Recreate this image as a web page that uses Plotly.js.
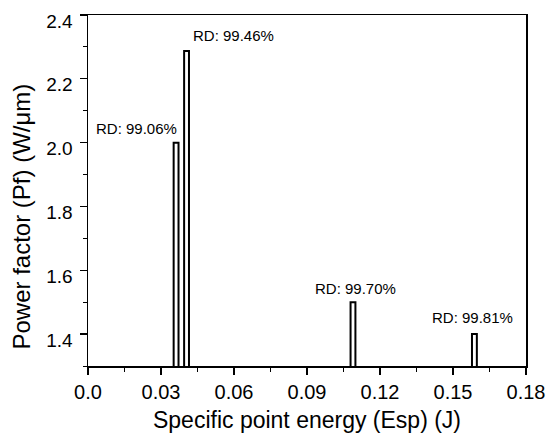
<!DOCTYPE html>
<html>
<head>
<meta charset="utf-8">
<script src="https://cdn.plot.ly/plotly-3.0.1.min.js"></script>
<style>html,body{margin:0;padding:0;background:#fff;}#chart{width:550px;height:440px;}</style>
</head>
<body>
<div id="chart"></div>
<script>
const energy = [0.0362, 0.0405, 0.1089, 0.1588];
const powerFactor = [2.0, 2.287, 1.5, 1.4];
const rdLabels = ["RD: 99.06%", "RD: 99.46%", "RD: 99.70%", "RD: 99.81%"];
const labelX = [0.0201, 0.0598, 0.110, 0.1582];
const labelY = [2.044, 2.336, 1.542, 1.451];
const xTicks = [0.0, 0.03, 0.06, 0.09, 0.12, 0.15, 0.18];
const xTickText = ["0.0", "0.03", "0.06", "0.09", "0.12", "0.15", "0.18"];
const yTicks = [1.4, 1.6, 1.8, 2.0, 2.2, 2.4];
const yTickText = ["1.4", "1.6", "1.8", "2.0", "2.2", "2.4"];
const xTitle = 'Specific point energy (Esp) (J)';
const yTitle = 'Power factor (Pf) (W/μm)';

const FONT = 'Arial, Liberation Sans, sans-serif';

const trace = {
  type: 'bar',
  x: energy,
  y: powerFactor,
  width: 0.002,
  marker: {color: '#ffffff', line: {color: '#000000', width: 2}},
  hoverinfo: 'none'
};

const annotations = rdLabels.map((t, i) => ({
  x: labelX[i], y: labelY[i], xref: 'x', yref: 'y', text: t,
  showarrow: false, font: {family: FONT, size: 15, color: '#000'}
}));
annotations.push({
  x: -0.154, y: 0.4245, xref: 'paper', yref: 'paper', text: yTitle,
  textangle: -90, showarrow: false, xanchor: 'center', yanchor: 'middle',
  font: {family: FONT, size: 24, color: '#000'}
});

const layout = {
  width: 550, height: 440,
  margin: {l: 88, r: 24, t: 15, b: 74},
  paper_bgcolor: '#fff', plot_bgcolor: '#fff',
  showlegend: false,
  font: {family: FONT, color: '#000'},
  xaxis: {
    range: [0, 0.18], tickvals: xTicks, ticktext: xTickText,
    ticks: 'outside', ticklen: 7, tickwidth: 1.2, tickcolor: '#000',
    minor: {dtick: 0.015, tick0: 0, ticks: 'outside', ticklen: 4, tickcolor: '#000', tickwidth: 1},
    showline: true, linecolor: '#000', linewidth: 1.5, mirror: true,
    showgrid: false, zeroline: false,
    tickfont: {size: 20},
    title: {text: xTitle, font: {size: 23}, standoff: 10}
  },
  yaxis: {
    range: [1.3, 2.4], tickvals: yTicks, ticktext: yTickText,
    ticks: 'outside', ticklen: 7, tickwidth: 1.2, tickcolor: '#000',
    minor: {dtick: 0.1, tick0: 1.3, ticks: 'outside', ticklen: 4, tickcolor: '#000', tickwidth: 1},
    showline: true, linecolor: '#000', linewidth: 1.5, mirror: true,
    showgrid: false, zeroline: false,
    tickfont: {size: 19},
    ticklabelshift: 6,
    ticklabelstandoff: 3
  },
  annotations: annotations
};

Plotly.newPlot('chart', [trace], layout, {staticPlot: true, displayModeBar: false});
</script>
</body>
</html>
